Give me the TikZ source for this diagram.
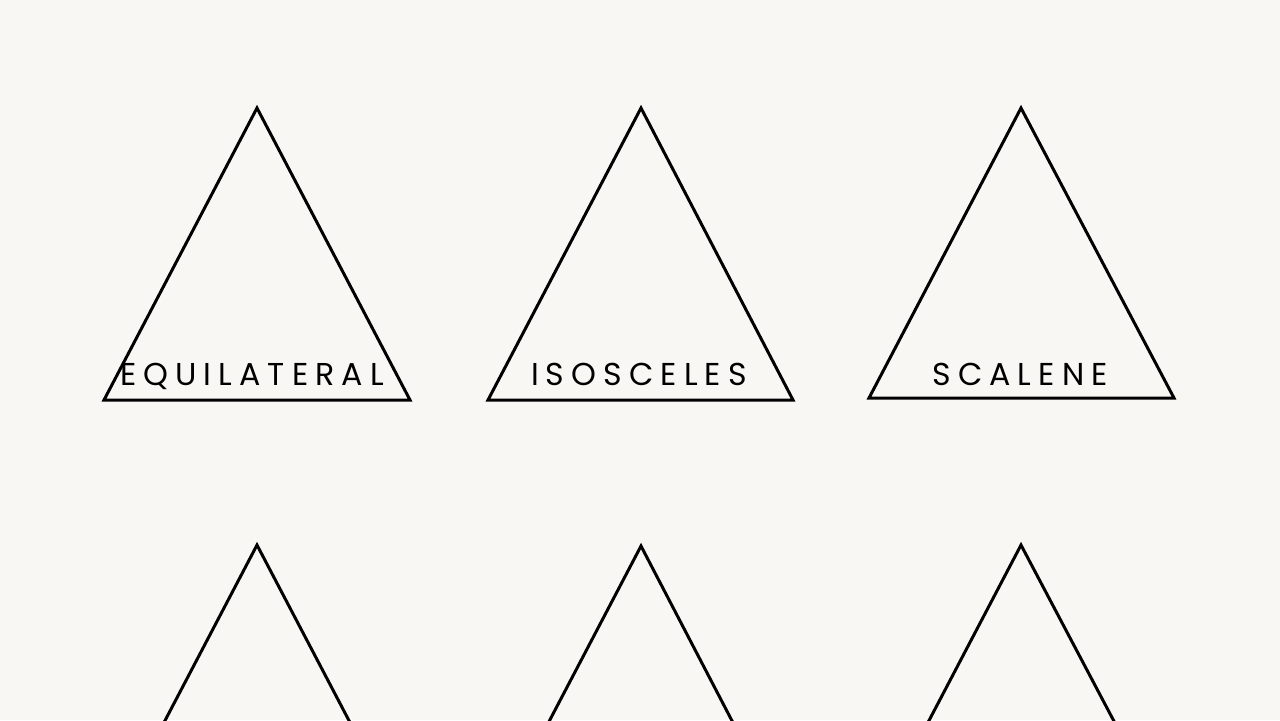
\documentclass[tikz,border=0pt]{standalone}
\usepackage{fontspec}
\newfontfamily\shapefont[LetterSpace=22.5]{Poppins}
\definecolor{paper}{HTML}{F8F7F3}
\tikzset{
    edge/.style={line width=1.7pt, line join=miter},
    caption/.style={anchor=base, inner sep=0pt, font=\shapefont\fontsize{18}{18}\selectfont},
}
\begin{document}
\begin{tikzpicture}[x=0.02cm, y=-0.02cm]
        \fill[paper] (0, 0) rectangle (1280, 720);
        \useasboundingbox (0, 0) rectangle (1280, 720);
        \clip (0, 0) rectangle (1280, 720);
        % top row
        \coordinate (EA) at (257, 108);
        \coordinate (EL) at (104, 400);
        \coordinate (ER) at (410, 400);
        \coordinate (IA) at (641, 108);
        \coordinate (IL) at (488, 400);
        \coordinate (IR) at (793, 400);
        \coordinate (SA) at (1021, 108);
        \coordinate (SL) at (869, 398);
        \coordinate (SR) at (1174, 398);
        \draw[edge] (EA) -- (EL) -- (ER) -- cycle;
        \draw[edge] (IA) -- (IL) -- (IR) -- cycle;
        \draw[edge] (SA) -- (SL) -- (SR) -- cycle;
        \node[caption] (equi) at (252, 385) {EQUILATERAL};
        \node[caption] (isos) at (639, 385) {ISOSCELES};
        \node[caption] (scal) at (1020, 385) {SCALENE};
        % bottom row
        \coordinate (BA1) at (257, 545);
        \coordinate (BL1) at (104, 837);
        \coordinate (BR1) at (410, 837);
        \coordinate (BA2) at (641, 546);
        \coordinate (BL2) at (488, 838);
        \coordinate (BR2) at (793, 838);
        \coordinate (BA3) at (1021, 545);
        \coordinate (BL3) at (869, 835);
        \coordinate (BR3) at (1174, 835);
        \draw[edge] (BA1) -- (BL1) -- (BR1) -- cycle;
        \draw[edge] (BA2) -- (BL2) -- (BR2) -- cycle;
        \draw[edge] (BA3) -- (BL3) -- (BR3) -- cycle;
    \end{tikzpicture}
\end{document}
